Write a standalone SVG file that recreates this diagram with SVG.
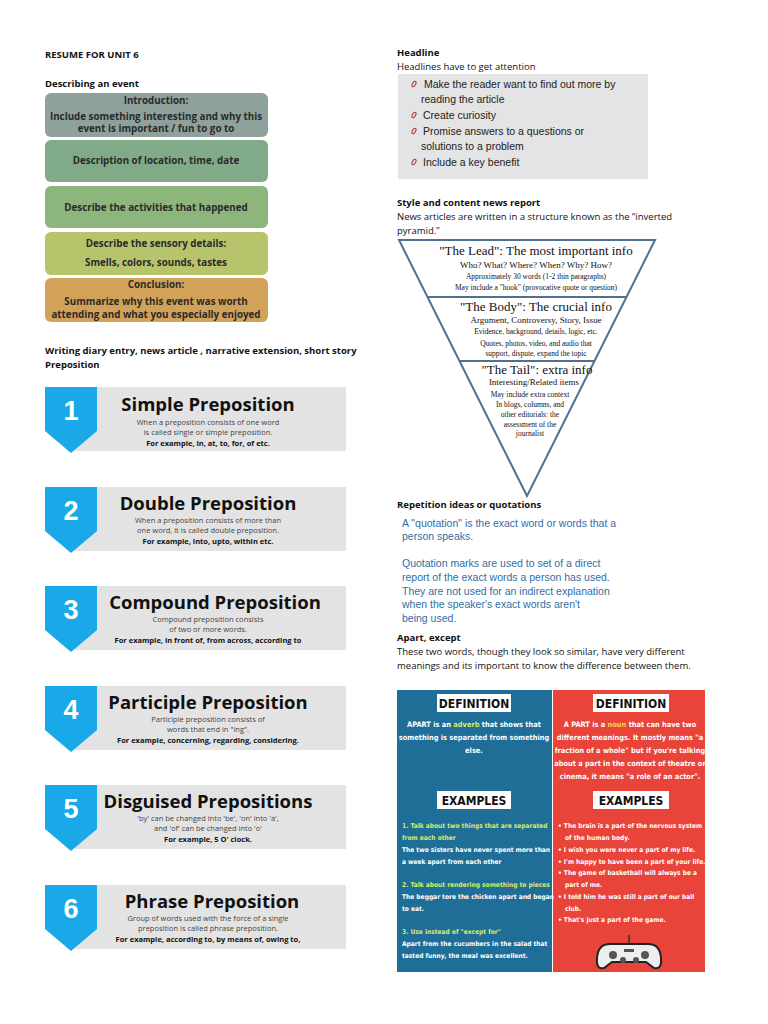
<svg xmlns="http://www.w3.org/2000/svg" width="768" height="1024" viewBox="0 0 768 1024">
<style>
text{font-family:"Open Sans","Liberation Sans",sans-serif;fill:#111}
.h{font-size:9.5px;font-weight:bold}
.p{font-size:9.5px}
.ev{font-size:9.8px;font-weight:bold;fill:#2a2a2a;text-anchor:middle}
.pt{font-size:18.5px;font-weight:bold;text-anchor:middle}
.ps{font-size:7.5px;fill:#444;text-anchor:middle}
.pe{font-size:7.5px;font-weight:bold;text-anchor:middle}
.num{font-size:27px;font-weight:bold;fill:#fff;text-anchor:middle;font-family:"Liberation Sans",sans-serif}
.hl{font-size:10.5px;font-family:"Liberation Sans",sans-serif;fill:#222}
.bul{fill:none;stroke:#b03030;stroke-width:1}
.sf{font-family:"Liberation Serif","DejaVu Serif",serif;text-anchor:middle;fill:#111}
.q{font-size:10.5px;fill:#2f6ea5;font-family:"Liberation Sans",sans-serif}
.ib{font-family:"DejaVu Sans Condensed","Liberation Sans",sans-serif;font-weight:bold;font-size:6.6px;fill:#fff}
.ibc{text-anchor:middle}
.yl{fill:#d8ec6a}
.bx{font-family:"DejaVu Sans Condensed",sans-serif;font-weight:bold;font-size:12px;fill:#111;text-anchor:middle}
</style>
<rect width="768" height="1024" fill="#fff"/>
<text class="h" x="45" y="58">RESUME FOR UNIT 6</text>
<text class="h" x="45" y="87">Describing an event</text>
<g id="event">
<rect x="45" y="93" width="223" height="44" rx="6" fill="#8fa19b"/>
<text class="ev" x="156" y="104">Introduction:</text>
<text class="ev" x="156" y="120">Include something interesting and why this</text>
<text class="ev" x="156" y="132">event is important / fun to go to</text>
<rect x="45" y="140" width="223" height="42" rx="6" fill="#80aa88"/>
<text class="ev" x="156" y="164">Description of location, time, date</text>
<rect x="45" y="186" width="223" height="42" rx="6" fill="#8cb67c"/>
<text class="ev" x="156" y="211">Describe the activities that happened</text>
<rect x="45" y="232" width="223" height="43" rx="6" fill="#b8c46c"/>
<text class="ev" x="156" y="247">Describe the sensory details:</text>
<text class="ev" x="156" y="266">Smells, colors, sounds, tastes</text>
<rect x="45" y="278" width="223" height="44" rx="6" fill="#d1a258"/>
<text class="ev" x="156" y="288">Conclusion:</text>
<text class="ev" x="156" y="305">Summarize why this event was worth</text>
<text class="ev" x="156" y="318">attending and what you especially enjoyed</text>
</g>
<text class="h" x="45" y="354">Writing diary entry, news article , narrative extension, short story</text>
<text class="h" x="45" y="368">Preposition</text>
<defs>
<g id="pbg"><rect x="75" y="0" width="271" height="64" fill="#e3e3e3"/><path d="M45,0 H97 V44 L71,66 L45,44 Z" fill="#1aa9e8"/></g>
</defs>
<g id="p1" transform="translate(0,387)"><use href="#pbg"/><text class="num" x="71" y="33">1</text><text class="pt" x="208" y="24">Simple Preposition</text><text class="ps" x="208" y="38">When a preposition consists of one word</text><text class="ps" x="208" y="48">is called single or simple preposition.</text><text class="pe" x="208" y="59">For example, in, at, to, for, of etc.</text></g>
<g id="p2" transform="translate(0,487)"><use href="#pbg"/><text class="num" x="71" y="33">2</text><text class="pt" x="208" y="23">Double Preposition</text><text class="ps" x="208" y="36">When a preposition consists of more than</text><text class="ps" x="208" y="46">one word, it is called double preposition.</text><text class="pe" x="208" y="57">For example, into, upto, within etc.</text></g>
<g id="p3" transform="translate(0,586)"><use href="#pbg"/><text class="num" x="71" y="33">3</text><text class="pt" x="215" y="23">Compound Preposition</text><text class="ps" x="208" y="36">Compound preposition consists</text><text class="ps" x="208" y="46">of two or more words.</text><text class="pe" x="208" y="57">For example, in front of, from across, according to</text></g>
<g id="p4" transform="translate(0,686)"><use href="#pbg"/><text class="num" x="71" y="33">4</text><text class="pt" x="208" y="23">Participle Preposition</text><text class="ps" x="208" y="36">Participle preposition consists of</text><text class="ps" x="208" y="46">words that end in "ing".</text><text class="pe" x="208" y="57">For example, concerning, regarding, considering.</text></g>
<g id="p5" transform="translate(0,785)"><use href="#pbg"/><text class="num" x="71" y="33">5</text><text class="pt" x="208" y="23">Disguised Prepositions</text><text class="ps" x="208" y="36">'by' can be changed into 'be', 'on' into 'a',</text><text class="ps" x="208" y="46">and 'of' can be changed into 'o'</text><text class="pe" x="208" y="57">For example, 5 O' clock.</text></g>
<g id="p6" transform="translate(0,885)"><use href="#pbg"/><text class="num" x="71" y="33">6</text><text class="pt" x="212" y="23">Phrase Preposition</text><text class="ps" x="208" y="36">Group of words used with the force of a single</text><text class="ps" x="208" y="46">preposition is called phrase preposition.</text><text class="pe" x="208" y="57">For example, according to, by means of, owing to,</text></g>

<text class="h" x="397" y="56">Headline</text>
<text class="p" x="397" y="70">Headlines have to get attention</text>
<g id="headline">
<rect x="398" y="74" width="250" height="105" fill="#e4e4e4"/>
<g class="bul"><ellipse cx="414" cy="84" rx="1.6" ry="3" transform="rotate(30 414 84)"/><ellipse cx="414" cy="115" rx="1.6" ry="3" transform="rotate(30 414 115)"/><ellipse cx="414" cy="131" rx="1.6" ry="3" transform="rotate(30 414 131)"/><ellipse cx="414" cy="162" rx="1.6" ry="3" transform="rotate(30 414 162)"/></g>
<text class="hl" x="424" y="88">Make the reader want to find out more by</text>
<text class="hl" x="421" y="103">reading the article</text>
<text class="hl" x="423" y="119">Create curiosity</text>
<text class="hl" x="423" y="135">Promise answers to a questions or</text>
<text class="hl" x="421" y="150">solutions to a problem</text>
<text class="hl" x="423" y="166">Include a key benefit</text>
</g>
<text class="h" x="397" y="206">Style and content news report</text>
<text class="p" x="397" y="220">News articles are written in a structure known as the “inverted</text>
<text class="p" x="397" y="234">pyramid.”</text>
<g id="pyramid">
<path d="M399,240 H655 L527,496 Z" fill="#fff" stroke="#4f7090" stroke-width="2"/>
<line x1="427" y1="297" x2="627" y2="297" stroke="#4f7090" stroke-width="2"/>
<line x1="459" y1="361" x2="595" y2="361" stroke="#4f7090" stroke-width="2"/>
<text class="sf" x="536" y="255" font-size="13">"The Lead": The most important info</text>
<text class="sf" x="536" y="268" font-size="9">Who? What? Where? When? Why? How?</text>
<text class="sf" x="536" y="279" font-size="7.5">Approximately 30 words (1-2 thin paragraphs)</text>
<text class="sf" x="536" y="290" font-size="7.5">May include a "hook" (provocative quote or question)</text>
<text class="sf" x="536" y="311" font-size="13">"The Body": The crucial info</text>
<text class="sf" x="536" y="323" font-size="9">Argument, Controversy, Story, Issue</text>
<text class="sf" x="536" y="334" font-size="7.5">Evidence, background, details, logic, etc.</text>
<text class="sf" x="536" y="346" font-size="7.5">Quotes, photos, video, and audio that</text>
<text class="sf" x="536" y="356" font-size="7.5">support, dispute, expand the topic</text>
<text class="sf" x="537" y="374" font-size="13">"The Tail": extra info</text>
<text class="sf" x="534" y="385" font-size="9">Interesting/Related items</text>
<text class="sf" x="530" y="397" font-size="7.5">May include extra context</text>
<text class="sf" x="530" y="407" font-size="7.5">In blogs, columns, and</text>
<text class="sf" x="530" y="417" font-size="7.5">other editorials: the</text>
<text class="sf" x="530" y="427" font-size="7.5">assessment of the</text>
<text class="sf" x="530" y="436" font-size="7.5">journalist</text>
</g>
<text class="h" x="397" y="508">Repetition ideas or quotations</text>
<g id="quotes">
<text class="q" x="402" y="527">A "quotation" is the exact word or words that a</text>
<text class="q" x="402" y="540">person speaks.</text>
<text class="q" x="402" y="567">Quotation marks are used to set of a direct</text>
<text class="q" x="402" y="581">report of the exact words a person has used.</text>
<text class="q" x="402" y="595">They are not used for an indirect explanation</text>
<text class="q" x="402" y="608">when the speaker's exact words aren't</text>
<text class="q" x="402" y="622">being used.</text>
</g>
<text class="h" x="397" y="641">Apart, except</text>
<text class="p" x="397" y="655">These two words, though they look so similar, have very different</text>
<text class="p" x="397" y="669">meanings and its important to know the difference between them.</text>
<g id="apart">
<rect x="397" y="690" width="155" height="282" fill="#1e6e98"/>
<rect x="553" y="690" width="152" height="282" fill="#e8443a"/>
<rect x="437" y="694" width="74" height="18" fill="#fff"/><text class="bx" x="474" y="708">DEFINITION</text>
<rect x="593" y="694" width="76" height="18" fill="#fff"/><text class="bx" x="631" y="708">DEFINITION</text>
<rect x="437" y="791" width="74" height="18" fill="#fff"/><text class="bx" x="474" y="805">EXAMPLES</text>
<rect x="593" y="791" width="76" height="18" fill="#fff"/><text class="bx" x="631" y="805">EXAMPLES</text>
<text class="ib ibc" x="474" y="727" font-size="7.2" style="font-size:7.4px">APART is an <tspan class="yl">adverb</tspan> that shows that</text>
<text class="ib ibc" x="474" y="740" style="font-size:7.4px">something is separated from something</text>
<text class="ib ibc" x="474" y="753" style="font-size:7.4px">else.</text>
<text class="ib ibc" x="630" y="727" style="font-size:7.4px">A PART is a <tspan style="fill:#f5d84a">noun</tspan> that can have two</text>
<text class="ib ibc" x="630" y="740" style="font-size:7.4px">different meanings. It mostly means "a</text>
<text class="ib ibc" x="630" y="753" style="font-size:7.4px">fraction of a whole" but if you're talking</text>
<text class="ib ibc" x="630" y="766" style="font-size:7.4px">about a part in the context of theatre or</text>
<text class="ib ibc" x="630" y="779" style="font-size:7.4px">cinema, it means "a role of an actor".</text>
<text class="ib yl" x="402" y="828">1. Talk about two things that are separated</text>
<text class="ib yl" x="402" y="840">from each other</text>
<text class="ib" x="402" y="852">The two sisters have never spent more than</text>
<text class="ib" x="402" y="864">a week apart from each other</text>
<text class="ib yl" x="402" y="887">2. Talk about rendering something to pieces</text>
<text class="ib" x="402" y="899">The beggar tore the chicken apart and began</text>
<text class="ib" x="402" y="911">to eat.</text>
<text class="ib yl" x="402" y="934">3. Use instead of "except for"</text>
<text class="ib" x="402" y="946">Apart from the cucumbers in the salad that</text>
<text class="ib" x="402" y="958">tasted funny, the meal was excellent.</text>
<text class="ib" x="558" y="828">•  The brain is a part of the nervous system</text>
<text class="ib" x="565" y="840">of the human body.</text>
<text class="ib" x="558" y="852">•  I wish you were never a part of my life.</text>
<text class="ib" x="558" y="864">•  I'm happy to have been a part of your life.</text>
<text class="ib" x="558" y="875">•  The game of basketball will always be a</text>
<text class="ib" x="565" y="887">part of me.</text>
<text class="ib" x="558" y="899">•  I told him he was still a part of our ball</text>
<text class="ib" x="565" y="911">club.</text>
<text class="ib" x="558" y="922">•  That's just a part of the game.</text>
<g id="controller">
<line x1="629" y1="935" x2="629" y2="943" stroke="#333" stroke-width="1.5"/>
<path d="M610,944 H648 Q660,944 661,958 Q662,970 654,968 L646,962 H612 L604,968 Q596,970 597,958 Q598,944 610,944 Z" fill="#eee" stroke="#222" stroke-width="2"/>
<circle cx="613" cy="955" r="4" fill="#555"/><circle cx="645" cy="955" r="4" fill="#555"/>
<circle cx="623" cy="960" r="3" fill="#555"/><circle cx="636" cy="960" r="3" fill="#555"/>
<rect x="624" y="949" width="10" height="3" fill="#555"/>
</g>
</g>
</svg>
